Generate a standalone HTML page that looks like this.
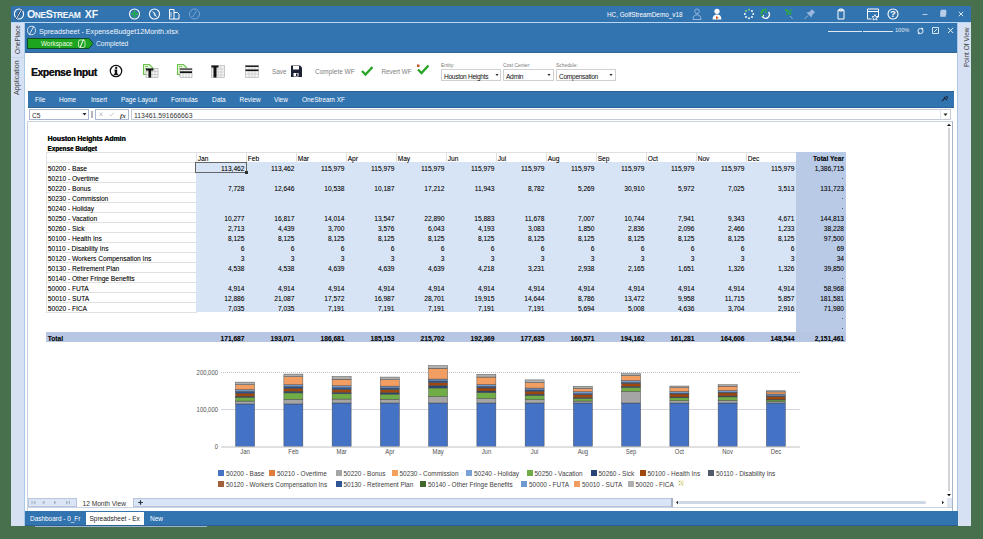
<!DOCTYPE html>
<html><head><meta charset="utf-8">
<style>
*{box-sizing:border-box;margin:0;padding:0}
html,body{width:983px;height:539px;overflow:hidden}
body{position:relative;background:#48704c;font-family:"Liberation Sans",sans-serif;color:#222}
.a{position:absolute}
.t{position:absolute;white-space:nowrap;font-size:6.6px;line-height:11px;color:#0a0a0a;text-shadow:0.15px 0 0 rgba(0,0,0,0.35)}
.hd{font-size:6.6px}
.lbl{}
.hdt{text-align:right;padding-right:2px;font-weight:bold}
.tv{text-align:right;padding-right:2px}
.b{font-weight:bold}
.num{position:absolute;display:flex;font-size:6.6px;line-height:11px;color:#0a0a0a;white-space:nowrap;text-shadow:0.15px 0 0 rgba(0,0,0,0.35)}
.num span{width:50px;text-align:right;padding-right:1.6px;display:block}
.wt{position:absolute;color:#fff;white-space:nowrap}
.rib{position:absolute;top:92px;height:16px;line-height:16px;font-size:6.45px;color:#fff;white-space:nowrap}
.lg{position:absolute;white-space:nowrap;font-size:6.45px;line-height:8px;color:#404040}
.vt{position:absolute;transform:rotate(-90deg);transform-origin:0 0;white-space:nowrap;font-size:6.6px;line-height:7px;color:#3a3a3a}
svg text{font-family:"Liberation Sans",sans-serif;font-size:6.9px;fill:#505050}
.bt{position:absolute;top:511px;height:15px;line-height:15px;font-size:6.45px;color:#fff;white-space:nowrap}
</style></head><body>
<!-- window frame -->
<div class="a" style="left:11px;top:6px;width:960px;height:520px;background:#d6e1f4"></div>
<div class="a" style="left:11px;top:6px;width:960px;height:16px;background:#3274b0"></div>
<div class="a" style="left:11px;top:22px;width:960px;height:1px;background:#b9d6f2"></div>
<!-- brand -->
<svg class="a" style="left:12px;top:7px" width="14" height="14" viewBox="0 0 14 14">
<ellipse cx="7" cy="7" rx="4.6" ry="5" fill="none" stroke="#fff" stroke-width="1.1"/>
<path d="M3.8 12.2 L10.4 1.8" stroke="#1a3f6e" stroke-width="2.2"/>
<path d="M4.2 12 L10 2" stroke="#fff" stroke-width="0.9"/>
</svg>
<div class="wt" id="brand" style="left:27px;top:8px;font-size:10.6px;line-height:12px;font-weight:bold;letter-spacing:-0.45px;color:#f4f7fc">O<span style="font-size:8.5px">NE</span>S<span style="font-size:8.5px">TREAM</span><span style="letter-spacing:0;margin-left:1.5px"> XF</span></div>
<!-- title bar icons -->
<svg class="a" style="left:128px;top:8px" width="74" height="12" viewBox="0 0 74 12">
<circle cx="6.5" cy="6" r="5" fill="none" stroke="#fff" stroke-width="1.1"/>
<g fill="#26b43c"><circle cx="6.5" cy="3.8" r="1.2"/><circle cx="4.3" cy="6" r="1.2"/><circle cx="8.7" cy="6" r="1.2"/><circle cx="6.5" cy="8.2" r="1.2"/><circle cx="6.5" cy="6" r="0.9"/></g>
<circle cx="26.5" cy="6" r="5" fill="none" stroke="#fff" stroke-width="1.1"/>
<path d="M23.8 2.8 L26.5 6.5 L25.5 6.8 L29.2 9.5 L26.8 5.6 L27.8 5.4 Z" fill="#fff"/>
<path d="M41.5 1.5 h4.5 v9.5 h-4.5 z" fill="none" stroke="#fff" stroke-width="1"/>
<path d="M43 4 v5" stroke="#fff" stroke-width="0.8"/>
<path d="M46 4.5 h3.5 l1.5 1.5 v5 h-5" fill="none" stroke="#fff" stroke-width="1"/>
<circle cx="66.5" cy="6" r="5" fill="none" stroke="#86a9d6" stroke-width="0.9"/>
<path d="M64.5 9 L68.5 3" stroke="#86a9d6" stroke-width="0.8"/>
</svg>
<div class="wt" style="left:607px;top:10px;font-size:6.35px;line-height:10px">HC, GolfStreamDemo_v18</div>
<svg class="a" style="left:690px;top:7px" width="280" height="14" viewBox="0 0 280 14">
<g fill="none" stroke="#9fbbe2" stroke-width="0.9"><circle cx="7" cy="4.3" r="2.3"/><path d="M3 12.5 Q3 7.8 7 7.8 Q11 7.8 11 12.5 z"/></g>
<g fill="#fff"><circle cx="27" cy="4.3" r="2.6"/><path d="M22.6 12.5 Q22.6 7.6 27 7.6 Q31.4 7.6 31.4 12.5 z"/></g>
<path d="M26 9 l3 1.8 l-3 1.8 z" fill="#e0622a"/>
<circle cx="63.20" cy="7.00" r="0.95" fill="#fff"/><circle cx="61.97" cy="9.97" r="0.95" fill="#fff"/><circle cx="59.00" cy="11.20" r="0.95" fill="#fff"/><circle cx="56.03" cy="9.97" r="0.95" fill="#fff"/><circle cx="54.80" cy="7.00" r="0.95" fill="#fff"/><circle cx="56.03" cy="4.03" r="0.95" fill="#8fd16a"/><circle cx="59.00" cy="2.80" r="0.95" fill="#8fd16a"/><circle cx="61.97" cy="4.03" r="0.95" fill="#fff"/>
<path d="M78.5 5 a3.8 3.8 0 1 1 -6.5 3.5" fill="none" stroke="#fff" stroke-width="1.3"/>
<path d="M71 8 l1.8 2.3 l1.6 -2.2 z" fill="#fff"/>
<g fill="#2fae3a"><circle cx="73" cy="3.2" r="1.3"/><circle cx="75.5" cy="2.5" r="1.1"/><circle cx="71.5" cy="5.5" r="1.2"/><circle cx="72" cy="8.5" r="1.1"/><circle cx="76" cy="5" r="1"/></g>
<path d="M100 9 l2.5 2.8" stroke="#9ab6de" stroke-width="1"/>
<g fill="#2fae3a"><circle cx="96" cy="3" r="1.2"/><circle cx="98" cy="4.5" r="1.2"/><circle cx="100" cy="6.5" r="1.2"/><circle cx="97" cy="7" r="1"/><circle cx="101" cy="3.5" r="1"/></g>
<path d="M114.5 12 l3.5 -3.5" stroke="#9ab6de" stroke-width="1"/><path d="M116.5 5.5 l5 5 l0.8 -2.5 l2.7 -2.7 l-3 -3 l-2.7 2.7 z" fill="#9ab6de"/>
<path d="M148 3 h6 v9 h-6 z M149.5 2 h3 v2 h-3 z" fill="none" stroke="#fff" stroke-width="1"/>
<path d="M177.5 2 h11 v8 h-3 M177.5 2 v10 h4 M177.5 4.5 h11" fill="none" stroke="#fff" stroke-width="1"/>
<path d="M185 7.5 l1 2 l2 .2 l-1.5 1.3 l.5 2 l-2 -1 l-2 1 l.5 -2 l-1.5 -1.3 l2 -.2 z" fill="none" stroke="#fff" stroke-width="0.8"/>
<circle cx="203" cy="7" r="5" fill="none" stroke="#fff" stroke-width="1.1"/>
<text x="203" y="10.3" text-anchor="middle" style="font-size:9.5px;font-weight:bold;fill:#fff">?</text>
<path d="M232.5 7.5 h5" stroke="#b9cde8" stroke-width="1"/>
<path d="M250.5 4.5 h5 v5 h-5 z M251 4 v-1 h5 v5" fill="#b9cde8" stroke="#b9cde8" stroke-width="0.6"/>
<path d="M268.8 4.8 l4.4 4.4 M273.2 4.8 l-4.4 4.4" stroke="#f0f4fa" stroke-width="0.9"/>
</svg>
<!-- left sidebar -->
<div class="a" style="left:24px;top:23px;width:1px;height:503px;background:#a9c8e8"></div>
<div class="a" style="left:11px;top:57px;width:13px;height:1px;background:#c6d3e8"></div>
<div class="vt" style="left:14px;top:54px">OnePlace</div>
<div class="vt" style="left:14px;top:95px;font-size:7.1px">Application</div>
<!-- right sidebar -->
<div class="a" style="left:957px;top:23px;width:1px;height:503px;background:#a9c6e6"></div>
<div class="vt" style="left:963px;top:66.5px;font-size:6.55px">Point Of View</div>
<!-- inner header -->
<div class="a" style="left:25px;top:23px;width:932px;height:30px;background:#3274b0;border-bottom:1px solid #34628f"></div>
<svg class="a" style="left:26px;top:25px" width="11" height="11" viewBox="0 0 11 11">
<ellipse cx="5.5" cy="5.5" rx="4" ry="4.2" fill="none" stroke="#e8eef8" stroke-width="0.9"/>
<path d="M3 10 L8 1" stroke="#e8eef8" stroke-width="0.9"/>
</svg>
<div class="wt" style="left:39px;top:26.5px;font-size:7.15px;line-height:10px;color:#f4f7fc">Spreadsheet - ExpenseBudget12Month.xlsx</div>
<svg class="a" style="left:26px;top:37px" width="70" height="13" viewBox="0 0 70 13">
<path d="M1.5 1.5 H63 L67 6.5 L63 11.5 H1.5 Z" fill="#1ea51f" stroke="#0f4a28" stroke-width="1"/>
<rect x="52.5" y="3" width="6.5" height="7.5" rx="1.8" fill="none" stroke="#e6f6e0" stroke-width="0.8"/>
<path d="M54 10.5 L57.5 2.5" stroke="#fff" stroke-width="1"/>
</svg>
<div class="wt" style="left:41px;top:39px;font-size:6.35px;line-height:9px;color:#eef8e8">Workspace</div>
<div class="wt" style="left:96px;top:39px;font-size:6.7px;line-height:9px;color:#f0f4fa">Completed</div>
<!-- zoom controls -->
<div class="a" style="left:828px;top:30.5px;width:34px;height:1px;background:#dfe8f5"></div>
<div class="a" style="left:863px;top:30.5px;width:30px;height:1px;background:#dfe8f5"></div>
<div class="wt" style="left:895px;top:26px;font-size:5.6px;line-height:9px;color:#e0e8f4">100%</div>
<svg class="a" style="left:915px;top:26px" width="42" height="10" viewBox="0 0 42 10">
<circle cx="5.5" cy="5" r="2.6" fill="none" stroke="#e6eef8" stroke-width="1"/><path d="M6.5 1.5 l2 1 l-2 1.3 z M4.5 8.5 l-2 -1 l2 -1.3 z" fill="#e6eef8"/>
<path d="M17.5 1.5 h6 v6 h-6 z" fill="none" stroke="#e6eef8" stroke-width="0.9"/>
<path d="M19 6 l3 -3" stroke="#e6eef8" stroke-width="0.9"/>
<path d="M33 1.8 l5.2 5.2 M38.2 1.8 l-5.2 5.2" stroke="#fff" stroke-width="0.9"/>
</svg>
<!-- white content -->
<div class="a" style="left:25px;top:53px;width:932px;height:458px;background:#fff"></div>
<div class="wt" id="ei" style="left:31px;top:67px;font-size:10.3px;line-height:12px;font-weight:bold;color:#151515;letter-spacing:-0.36px;text-shadow:0.25px 0 0 #151515">Expense Input</div>
<!-- toolbar icons -->
<svg class="a" style="left:105px;top:60px" width="200" height="22" viewBox="0 0 200 22">
<circle cx="11" cy="11" r="5.7" fill="#fff" stroke="#111" stroke-width="1.25"/>
<circle cx="11.2" cy="7.9" r="1.15" fill="#111"/>
<path d="M9.4 9.6 h2.8 v4.2 h1 v1.2 h-4.4 v-1.2 h1 v-3 h-0.4 z" fill="#111"/>
<!-- icon2 -->
<path d="M38.5 4.5 h6 l3 3 v7 h-9 z" fill="#e3f4d8" stroke="#6cc24a" stroke-width="1.1"/>
<path d="M40 6.5 h3 M40 8.5 h2" stroke="#6cc24a" stroke-width="0.8"/>
<rect x="41" y="8.5" width="12" height="9" fill="#f4f4f4" stroke="#a0a0a0" stroke-width="0.6"/>
<path d="M44 9 v8.5 M47 9 v8.5 M50 9 v8.5 M41 11.5 h12 M41 14.5 h12" stroke="#b0b0b0" stroke-width="0.5"/>
<path d="M41 8.5 h7.5 v2 h-2.4 v7 h-2.6 v-7 h-2.5 z" fill="#111"/>
<!-- icon3 -->
<path d="M72.5 4.5 h6 l3 3 v7 h-9 z" fill="#e3f4d8" stroke="#6cc24a" stroke-width="1.1"/>
<path d="M74 6.5 h3 M74 8.5 h2" stroke="#6cc24a" stroke-width="0.8"/>
<rect x="75" y="8.5" width="12" height="9" fill="#f4f4f4" stroke="#a0a0a0" stroke-width="0.6"/>
<path d="M78 9 v8.5 M81 9 v8.5 M84 9 v8.5" stroke="#b0b0b0" stroke-width="0.5"/>
<rect x="75" y="8.5" width="12" height="1.3" fill="#3a3a3a"/>
<rect x="75" y="11.3" width="12" height="1.8" fill="#111"/>
<!-- icon4 -->
<rect x="106.5" y="5.5" width="13" height="12" fill="#f2f2f2" stroke="#aaa" stroke-width="0.6"/>
<path d="M110 6 v11.5 M113 6 v11.5 M116 6 v11.5 M106.5 9 h13 M106.5 12 h13 M106.5 15 h13" stroke="#bbb" stroke-width="0.5"/>
<path d="M106.5 5.5 h7 v2 h-2 v10 h-3 v-10 h-2 z" fill="#111"/>
<!-- icon5 -->
<rect x="140.5" y="5.5" width="13" height="12" fill="#f2f2f2" stroke="#aaa" stroke-width="0.6"/>
<path d="M144 6 v11.5 M147 6 v11.5 M150 6 v11.5 M140.5 14 h13" stroke="#bbb" stroke-width="0.5"/>
<rect x="140.5" y="5.5" width="13" height="1.5" fill="#222"/>
<rect x="140.5" y="9.5" width="13" height="1.6" fill="#111"/>
<!-- floppy -->
<path d="M186 5.5 h9 l2 2 v9.5 h-11 z" fill="#1c2233"/>
<rect x="188" y="6" width="6" height="3.5" fill="#fff"/>
<rect x="188.5" y="13" width="5" height="3.5" fill="#fff"/>
<rect x="191" y="13.5" width="1.5" height="2.5" fill="#1c2233"/>
</svg>
<div class="wt" style="left:272px;top:68px;font-size:6.4px;line-height:8px;color:#808080">Save</div>
<div class="wt" style="left:315px;top:68px;font-size:6.5px;line-height:8px;color:#808080">Complete WF</div>
<div class="wt" style="left:381.5px;top:68px;font-size:6.3px;line-height:8px;color:#808080">Revert WF</div>
<svg class="a" style="left:360px;top:63px" width="72" height="14" viewBox="0 0 72 14">
<path d="M2 8 l3.5 3.5 l7 -7.5" fill="none" stroke="#2aa52a" stroke-width="2.4"/>
<path d="M58 6.5 l3.5 3.5 l7 -7.5" fill="none" stroke="#2aa52a" stroke-width="2.4"/>
<rect x="57" y="1.5" width="2.5" height="2.5" fill="#c0502a"/>
</svg>
<div class="wt" style="left:441px;top:63px;font-size:4.9px;line-height:6px;color:#777">Entity:</div>
<div class="wt" style="left:503px;top:63px;font-size:4.9px;line-height:6px;color:#777">Cost Center:</div>
<div class="wt" style="left:556px;top:63px;font-size:4.9px;line-height:6px;color:#777">Schedule:</div>
<div class="a" style="left:441px;top:69px;width:60px;height:12px;border:1px solid #d0d0d0"></div>
<div class="a" style="left:503px;top:69px;width:51px;height:12px;border:1px solid #d0d0d0"></div>
<div class="a" style="left:556px;top:69px;width:60px;height:12px;border:1px solid #d0d0d0"></div>
<div class="wt" style="left:444px;top:71.5px;font-size:6.6px;line-height:9px;color:#111;letter-spacing:-0.3px">Houston Heights</div>
<div class="wt" style="left:506px;top:71.5px;font-size:6.6px;line-height:9px;color:#111;letter-spacing:-0.3px">Admin</div>
<div class="wt" style="left:559px;top:71.5px;font-size:6.6px;line-height:9px;color:#111;letter-spacing:-0.3px">Compensation</div>
<svg class="a" style="left:440px;top:69px" width="180" height="12" viewBox="0 0 180 12">
<path d="M55.5 5 h3 l-1.5 2 z M107.5 5 h3 l-1.5 2 z M169.5 5 h3 l-1.5 2 z" fill="#222"/>
</svg>
<!-- ribbon -->
<div class="a" style="left:28px;top:91px;width:926px;height:17px;background:#3274b0;border-top:1px solid #2d6296;border-bottom:1px solid #2d6296"></div>
<div class="rib" style="left:35px">File</div>
<div class="rib" style="left:59px">Home</div>
<div class="rib" style="left:91px">Insert</div>
<div class="rib" style="left:121px">Page Layout</div>
<div class="rib" style="left:171px">Formulas</div>
<div class="rib" style="left:212px">Data</div>
<div class="rib" style="left:239.5px">Review</div>
<div class="rib" style="left:274px">View</div>
<div class="rib" style="left:302px">OneStream XF</div>
<svg class="a" style="left:940px;top:95px" width="10" height="8" viewBox="0 0 10 8"><path d="M2 6 l3 -3 M4 2 l3 3 M6 1 l2 2" stroke="#1d2a3d" stroke-width="1.2"/></svg>
<!-- formula bar -->
<div class="a" style="left:29px;top:109px;width:60px;height:11px;border:1px solid #a9b7d3;background:#fff"></div>
<div class="wt" style="left:32px;top:111px;font-size:6.6px;line-height:9px;color:#333">C5</div>
<svg class="a" style="left:82px;top:112px" width="8" height="5"><path d="M0.5 1 h4 l-2 2.5 z" fill="#222"/></svg>
<div class="a" style="left:91px;top:111px;width:2px;height:7px;background:#b5b5b5"></div>
<div class="a" style="left:95px;top:109px;width:34px;height:11px;border:1px solid #a9b7d3;background:#fff"></div>
<svg class="a" style="left:95px;top:109px" width="34" height="11" viewBox="0 0 34 11">
<path d="M4.5 3.5 l3 3.5 M7.5 3.5 l-3 3.5" stroke="#aaa" stroke-width="0.7"/>
<path d="M14.5 5.5 l1.5 1.5 l3 -3.5" fill="none" stroke="#bbb" stroke-width="0.7"/>
<text x="25" y="8.5" style="font-family:'Liberation Serif',serif;font-size:7px;font-style:italic;font-weight:bold;fill:#333">fx</text>
</svg>
<div class="a" style="left:131px;top:109px;width:820px;height:11px;border:1px solid #c3cad6;background:#fff"></div>
<div class="wt" style="left:134px;top:111px;font-size:6.85px;line-height:9px;color:#333">113461.591666663</div>
<svg class="a" style="left:940px;top:109px" width="11" height="11"><path d="M0.5 0.5 v10" stroke="#dde3ec" stroke-width="1"/><path d="M3.5 4.5 h4 l-2 2.5 z" fill="#222"/></svg>
<!-- sheet -->
<div class="a" style="left:27px;top:121px;width:926px;height:390px;border:1px solid #c8d2e0;border-right:1.3px solid #a9b5c7;border-bottom:none"></div>
<div class="a" style="left:947.5px;top:128px;width:2.5px;height:363px;background:#d0d3d8"></div>
<svg class="a" style="left:946px;top:123px" width="6" height="4"><path d="M1 3 h4 l-2 -2.2 z" fill="#111"/></svg>
<svg class="a" style="left:946px;top:493px" width="6" height="4"><path d="M1 1 h4 l-2 2.2 z" fill="#111"/></svg>
<div class="wt" style="left:47.5px;top:133.5px;font-size:6.9px;line-height:10px;font-weight:bold;color:#111;text-shadow:0.25px 0 0 #111">Houston Heights Admin</div>
<div class="wt" style="left:47.5px;top:143.5px;font-size:6.3px;line-height:10px;font-weight:bold;color:#111;text-shadow:0.25px 0 0 #111">Expense Budget</div>
<div class="a" style="left:46px;top:152px;width:1px;height:161px;background:#e0e0e0"></div>
<div class="a" style="left:196px;top:152px;width:1px;height:161px;background:#e0e0e0"></div>
<div class="a" style="left:46px;top:152px;width:750px;height:1px;background:#e0e0e0"></div>
<div class="a" style="left:46px;top:162px;width:750px;height:1px;background:#e0e0e0"></div>
<div class="a" style="left:46px;top:172px;width:150px;height:1px;background:#e0e0e0"></div>
<div class="a" style="left:46px;top:182px;width:150px;height:1px;background:#e0e0e0"></div>
<div class="a" style="left:46px;top:192px;width:150px;height:1px;background:#e0e0e0"></div>
<div class="a" style="left:46px;top:202px;width:150px;height:1px;background:#e0e0e0"></div>
<div class="a" style="left:46px;top:212px;width:150px;height:1px;background:#e0e0e0"></div>
<div class="a" style="left:46px;top:222px;width:150px;height:1px;background:#e0e0e0"></div>
<div class="a" style="left:46px;top:232px;width:150px;height:1px;background:#e0e0e0"></div>
<div class="a" style="left:46px;top:242px;width:150px;height:1px;background:#e0e0e0"></div>
<div class="a" style="left:46px;top:252px;width:150px;height:1px;background:#e0e0e0"></div>
<div class="a" style="left:46px;top:262px;width:150px;height:1px;background:#e0e0e0"></div>
<div class="a" style="left:46px;top:272px;width:150px;height:1px;background:#e0e0e0"></div>
<div class="a" style="left:46px;top:282px;width:150px;height:1px;background:#e0e0e0"></div>
<div class="a" style="left:46px;top:292px;width:150px;height:1px;background:#e0e0e0"></div>
<div class="a" style="left:46px;top:302px;width:150px;height:1px;background:#e0e0e0"></div>
<div class="a" style="left:46px;top:312px;width:150px;height:1px;background:#e0e0e0"></div>
<div class="a" style="left:196px;top:152px;width:1px;height:11px;background:#e0e0e0"></div>
<div class="a" style="left:246px;top:152px;width:1px;height:11px;background:#e0e0e0"></div>
<div class="a" style="left:296px;top:152px;width:1px;height:11px;background:#e0e0e0"></div>
<div class="a" style="left:346px;top:152px;width:1px;height:11px;background:#e0e0e0"></div>
<div class="a" style="left:396px;top:152px;width:1px;height:11px;background:#e0e0e0"></div>
<div class="a" style="left:446px;top:152px;width:1px;height:11px;background:#e0e0e0"></div>
<div class="a" style="left:496px;top:152px;width:1px;height:11px;background:#e0e0e0"></div>
<div class="a" style="left:546px;top:152px;width:1px;height:11px;background:#e0e0e0"></div>
<div class="a" style="left:596px;top:152px;width:1px;height:11px;background:#e0e0e0"></div>
<div class="a" style="left:646px;top:152px;width:1px;height:11px;background:#e0e0e0"></div>
<div class="a" style="left:696px;top:152px;width:1px;height:11px;background:#e0e0e0"></div>
<div class="a" style="left:746px;top:152px;width:1px;height:11px;background:#e0e0e0"></div>
<div class="a" style="left:796px;top:152px;width:1px;height:11px;background:#e0e0e0"></div>
<div class="a" style="left:196px;top:162px;width:600px;height:150px;background:#d7e4f6"></div>
<div class="a" style="left:796px;top:152px;width:50px;height:190px;background:#b9cae6"></div>
<div class="t hd" style="left:197.7px;top:153px">Jan</div>
<div class="t hd" style="left:247.7px;top:153px">Feb</div>
<div class="t hd" style="left:297.7px;top:153px">Mar</div>
<div class="t hd" style="left:347.7px;top:153px">Apr</div>
<div class="t hd" style="left:397.7px;top:153px">May</div>
<div class="t hd" style="left:447.7px;top:153px">Jun</div>
<div class="t hd" style="left:497.7px;top:153px">Jul</div>
<div class="t hd" style="left:547.7px;top:153px">Aug</div>
<div class="t hd" style="left:597.7px;top:153px">Sep</div>
<div class="t hd" style="left:647.7px;top:153px">Oct</div>
<div class="t hd" style="left:697.7px;top:153px">Nov</div>
<div class="t hd" style="left:747.7px;top:153px">Dec</div>
<div class="t hdt" style="left:796px;top:153px;width:50px">Total Year</div>
<div class="t lbl" style="left:47.8px;top:163px">50200 - Base</div>
<div class="num" style="left:196px;top:163px"><span>113,462</span><span>113,462</span><span>115,979</span><span>115,979</span><span>115,979</span><span>115,979</span><span>115,979</span><span>115,979</span><span>115,979</span><span>115,979</span><span>115,979</span><span>115,979</span></div>
<div class="t tv" style="left:796px;top:163px;width:50px">1,386,715</div>
<div class="t lbl" style="left:47.8px;top:173px">50210 - Overtime</div>
<div class="a" style="left:842px;top:178px;width:1.2px;height:1px;background:#555"></div>
<div class="t lbl" style="left:47.8px;top:183px">50220 - Bonus</div>
<div class="num" style="left:196px;top:183px"><span>7,728</span><span>12,646</span><span>10,538</span><span>10,187</span><span>17,212</span><span>11,943</span><span>8,782</span><span>5,269</span><span>30,910</span><span>5,972</span><span>7,025</span><span>3,513</span></div>
<div class="t tv" style="left:796px;top:183px;width:50px">131,723</div>
<div class="t lbl" style="left:47.8px;top:193px">50230 - Commission</div>
<div class="a" style="left:842px;top:198px;width:1.2px;height:1px;background:#555"></div>
<div class="t lbl" style="left:47.8px;top:203px">50240 - Holiday</div>
<div class="a" style="left:842px;top:208px;width:1.2px;height:1px;background:#555"></div>
<div class="t lbl" style="left:47.8px;top:213px">50250 - Vacation</div>
<div class="num" style="left:196px;top:213px"><span>10,277</span><span>16,817</span><span>14,014</span><span>13,547</span><span>22,890</span><span>15,883</span><span>11,678</span><span>7,007</span><span>10,744</span><span>7,941</span><span>9,343</span><span>4,671</span></div>
<div class="t tv" style="left:796px;top:213px;width:50px">144,813</div>
<div class="t lbl" style="left:47.8px;top:223px">50260 - Sick</div>
<div class="num" style="left:196px;top:223px"><span>2,713</span><span>4,439</span><span>3,700</span><span>3,576</span><span>6,043</span><span>4,193</span><span>3,083</span><span>1,850</span><span>2,836</span><span>2,096</span><span>2,466</span><span>1,233</span></div>
<div class="t tv" style="left:796px;top:223px;width:50px">38,228</div>
<div class="t lbl" style="left:47.8px;top:233px">50100 - Health Ins</div>
<div class="num" style="left:196px;top:233px"><span>8,125</span><span>8,125</span><span>8,125</span><span>8,125</span><span>8,125</span><span>8,125</span><span>8,125</span><span>8,125</span><span>8,125</span><span>8,125</span><span>8,125</span><span>8,125</span></div>
<div class="t tv" style="left:796px;top:233px;width:50px">97,500</div>
<div class="t lbl" style="left:47.8px;top:243px">50110 - Disability Ins</div>
<div class="num" style="left:196px;top:243px"><span>6</span><span>6</span><span>6</span><span>6</span><span>6</span><span>6</span><span>6</span><span>6</span><span>6</span><span>6</span><span>6</span><span>6</span></div>
<div class="t tv" style="left:796px;top:243px;width:50px">69</div>
<div class="t lbl" style="left:47.8px;top:253px">50120 - Workers Compensation Ins</div>
<div class="num" style="left:196px;top:253px"><span>3</span><span>3</span><span>3</span><span>3</span><span>3</span><span>3</span><span>3</span><span>3</span><span>3</span><span>3</span><span>3</span><span>3</span></div>
<div class="t tv" style="left:796px;top:253px;width:50px">34</div>
<div class="t lbl" style="left:47.8px;top:263px">50130 - Retirement Plan</div>
<div class="num" style="left:196px;top:263px"><span>4,538</span><span>4,538</span><span>4,639</span><span>4,639</span><span>4,639</span><span>4,218</span><span>3,231</span><span>2,938</span><span>2,165</span><span>1,651</span><span>1,326</span><span>1,326</span></div>
<div class="t tv" style="left:796px;top:263px;width:50px">39,850</div>
<div class="t lbl" style="left:47.8px;top:273px">50140 - Other Fringe Benefits</div>
<div class="a" style="left:842px;top:278px;width:1.2px;height:1px;background:#555"></div>
<div class="t lbl" style="left:47.8px;top:283px">50000 - FUTA</div>
<div class="num" style="left:196px;top:283px"><span>4,914</span><span>4,914</span><span>4,914</span><span>4,914</span><span>4,914</span><span>4,914</span><span>4,914</span><span>4,914</span><span>4,914</span><span>4,914</span><span>4,914</span><span>4,914</span></div>
<div class="t tv" style="left:796px;top:283px;width:50px">58,968</div>
<div class="t lbl" style="left:47.8px;top:293px">50010 - SUTA</div>
<div class="num" style="left:196px;top:293px"><span>12,886</span><span>21,087</span><span>17,572</span><span>16,987</span><span>28,701</span><span>19,915</span><span>14,644</span><span>8,786</span><span>13,472</span><span>9,958</span><span>11,715</span><span>5,857</span></div>
<div class="t tv" style="left:796px;top:293px;width:50px">181,581</div>
<div class="t lbl" style="left:47.8px;top:303px">50020 - FICA</div>
<div class="num" style="left:196px;top:303px"><span>7,035</span><span>7,035</span><span>7,191</span><span>7,191</span><span>7,191</span><span>7,191</span><span>7,191</span><span>5,694</span><span>5,008</span><span>4,636</span><span>3,704</span><span>2,916</span></div>
<div class="t tv" style="left:796px;top:303px;width:50px">71,980</div>
<div class="a" style="left:842px;top:318px;width:1.2px;height:1px;background:#555"></div>
<div class="a" style="left:842px;top:328px;width:1.2px;height:1px;background:#555"></div>
<div class="a" style="left:46px;top:332px;width:800px;height:10px;background:#b6c6e3"></div>
<div class="t lbl b" style="left:47.8px;top:333px">Total</div>
<div class="num b" style="left:196px;top:333px"><span>171,687</span><span>193,071</span><span>186,681</span><span>185,153</span><span>215,702</span><span>192,369</span><span>177,635</span><span>160,571</span><span>194,162</span><span>161,281</span><span>164,606</span><span>148,544</span></div>
<div class="t tv b" style="left:796px;top:333px;width:50px">2,151,461</div>
<div class="a" style="left:195px;top:161.5px;width:51.5px;height:11px;border:1.2px solid #666"></div>
<div class="a" style="left:244.5px;top:171px;width:3px;height:3px;background:#303030"></div>
<svg class="a" style="left:0;top:0" width="983" height="539">
<line x1="221" y1="372.5" x2="800" y2="372.5" stroke="#b9c3d0" stroke-width="1" stroke-dasharray="1 1"/>
<line x1="221" y1="409.5" x2="800" y2="409.5" stroke="#d3d8e0" stroke-width="1"/>
<rect x="235.62" y="403.95" width="19" height="42.55" fill="#4472c4" stroke="#444" stroke-width="0.45"/>
<rect x="235.62" y="401.05" width="19" height="2.90" fill="#a5a5a5" stroke="#444" stroke-width="0.45"/>
<rect x="235.62" y="397.20" width="19" height="3.85" fill="#70ad47" stroke="#444" stroke-width="0.45"/>
<rect x="235.62" y="396.18" width="19" height="1.02" fill="#264478" stroke="#444" stroke-width="0.45"/>
<rect x="235.62" y="393.14" width="19" height="3.05" fill="#9e480e" stroke="#444" stroke-width="0.45"/>
<rect x="235.62" y="393.13" width="19" height="0.00" fill="#515b6b" stroke="#444" stroke-width="0.45"/>
<rect x="235.62" y="393.13" width="19" height="0.00" fill="#a0603a" stroke="#444" stroke-width="0.45"/>
<rect x="235.62" y="391.43" width="19" height="1.70" fill="#2f5597" stroke="#444" stroke-width="0.45"/>
<rect x="235.62" y="389.59" width="19" height="1.84" fill="#7099d0" stroke="#444" stroke-width="0.45"/>
<rect x="235.62" y="384.76" width="19" height="4.83" fill="#f29d62" stroke="#444" stroke-width="0.45"/>
<rect x="235.62" y="382.12" width="19" height="2.64" fill="#b0b0b0" stroke="#444" stroke-width="0.45"/>
<text transform="translate(245.1,454) scale(0.86,1)" text-anchor="middle">Jan</text>
<rect x="283.88" y="403.95" width="19" height="42.55" fill="#4472c4" stroke="#444" stroke-width="0.45"/>
<rect x="283.88" y="399.21" width="19" height="4.74" fill="#a5a5a5" stroke="#444" stroke-width="0.45"/>
<rect x="283.88" y="392.90" width="19" height="6.31" fill="#70ad47" stroke="#444" stroke-width="0.45"/>
<rect x="283.88" y="391.24" width="19" height="1.66" fill="#264478" stroke="#444" stroke-width="0.45"/>
<rect x="283.88" y="388.19" width="19" height="3.05" fill="#9e480e" stroke="#444" stroke-width="0.45"/>
<rect x="283.88" y="388.19" width="19" height="0.00" fill="#515b6b" stroke="#444" stroke-width="0.45"/>
<rect x="283.88" y="388.19" width="19" height="0.00" fill="#a0603a" stroke="#444" stroke-width="0.45"/>
<rect x="283.88" y="386.49" width="19" height="1.70" fill="#2f5597" stroke="#444" stroke-width="0.45"/>
<rect x="283.88" y="384.64" width="19" height="1.84" fill="#7099d0" stroke="#444" stroke-width="0.45"/>
<rect x="283.88" y="376.74" width="19" height="7.91" fill="#f29d62" stroke="#444" stroke-width="0.45"/>
<rect x="283.88" y="374.10" width="19" height="2.64" fill="#b0b0b0" stroke="#444" stroke-width="0.45"/>
<text transform="translate(293.4,454) scale(0.86,1)" text-anchor="middle">Feb</text>
<rect x="332.12" y="403.01" width="19" height="43.49" fill="#4472c4" stroke="#444" stroke-width="0.45"/>
<rect x="332.12" y="399.06" width="19" height="3.95" fill="#a5a5a5" stroke="#444" stroke-width="0.45"/>
<rect x="332.12" y="393.80" width="19" height="5.26" fill="#70ad47" stroke="#444" stroke-width="0.45"/>
<rect x="332.12" y="392.41" width="19" height="1.39" fill="#264478" stroke="#444" stroke-width="0.45"/>
<rect x="332.12" y="389.37" width="19" height="3.05" fill="#9e480e" stroke="#444" stroke-width="0.45"/>
<rect x="332.12" y="389.36" width="19" height="0.00" fill="#515b6b" stroke="#444" stroke-width="0.45"/>
<rect x="332.12" y="389.36" width="19" height="0.00" fill="#a0603a" stroke="#444" stroke-width="0.45"/>
<rect x="332.12" y="387.62" width="19" height="1.74" fill="#2f5597" stroke="#444" stroke-width="0.45"/>
<rect x="332.12" y="385.78" width="19" height="1.84" fill="#7099d0" stroke="#444" stroke-width="0.45"/>
<rect x="332.12" y="379.19" width="19" height="6.59" fill="#f29d62" stroke="#444" stroke-width="0.45"/>
<rect x="332.12" y="376.49" width="19" height="2.70" fill="#b0b0b0" stroke="#444" stroke-width="0.45"/>
<text transform="translate(341.6,454) scale(0.86,1)" text-anchor="middle">Mar</text>
<rect x="380.38" y="403.01" width="19" height="43.49" fill="#4472c4" stroke="#444" stroke-width="0.45"/>
<rect x="380.38" y="399.19" width="19" height="3.82" fill="#a5a5a5" stroke="#444" stroke-width="0.45"/>
<rect x="380.38" y="394.11" width="19" height="5.08" fill="#70ad47" stroke="#444" stroke-width="0.45"/>
<rect x="380.38" y="392.77" width="19" height="1.34" fill="#264478" stroke="#444" stroke-width="0.45"/>
<rect x="380.38" y="389.72" width="19" height="3.05" fill="#9e480e" stroke="#444" stroke-width="0.45"/>
<rect x="380.38" y="389.72" width="19" height="0.00" fill="#515b6b" stroke="#444" stroke-width="0.45"/>
<rect x="380.38" y="389.72" width="19" height="0.00" fill="#a0603a" stroke="#444" stroke-width="0.45"/>
<rect x="380.38" y="387.98" width="19" height="1.74" fill="#2f5597" stroke="#444" stroke-width="0.45"/>
<rect x="380.38" y="386.13" width="19" height="1.84" fill="#7099d0" stroke="#444" stroke-width="0.45"/>
<rect x="380.38" y="379.76" width="19" height="6.37" fill="#f29d62" stroke="#444" stroke-width="0.45"/>
<rect x="380.38" y="377.07" width="19" height="2.70" fill="#b0b0b0" stroke="#444" stroke-width="0.45"/>
<text transform="translate(389.9,454) scale(0.86,1)" text-anchor="middle">Apr</text>
<rect x="428.62" y="403.01" width="19" height="43.49" fill="#4472c4" stroke="#444" stroke-width="0.45"/>
<rect x="428.62" y="396.55" width="19" height="6.45" fill="#a5a5a5" stroke="#444" stroke-width="0.45"/>
<rect x="428.62" y="387.97" width="19" height="8.58" fill="#70ad47" stroke="#444" stroke-width="0.45"/>
<rect x="428.62" y="385.70" width="19" height="2.27" fill="#264478" stroke="#444" stroke-width="0.45"/>
<rect x="428.62" y="382.66" width="19" height="3.05" fill="#9e480e" stroke="#444" stroke-width="0.45"/>
<rect x="428.62" y="382.65" width="19" height="0.00" fill="#515b6b" stroke="#444" stroke-width="0.45"/>
<rect x="428.62" y="382.65" width="19" height="0.00" fill="#a0603a" stroke="#444" stroke-width="0.45"/>
<rect x="428.62" y="380.91" width="19" height="1.74" fill="#2f5597" stroke="#444" stroke-width="0.45"/>
<rect x="428.62" y="379.07" width="19" height="1.84" fill="#7099d0" stroke="#444" stroke-width="0.45"/>
<rect x="428.62" y="368.31" width="19" height="10.76" fill="#f29d62" stroke="#444" stroke-width="0.45"/>
<rect x="428.62" y="365.61" width="19" height="2.70" fill="#b0b0b0" stroke="#444" stroke-width="0.45"/>
<text transform="translate(438.1,454) scale(0.86,1)" text-anchor="middle">May</text>
<rect x="476.88" y="403.01" width="19" height="43.49" fill="#4472c4" stroke="#444" stroke-width="0.45"/>
<rect x="476.88" y="398.53" width="19" height="4.48" fill="#a5a5a5" stroke="#444" stroke-width="0.45"/>
<rect x="476.88" y="392.57" width="19" height="5.96" fill="#70ad47" stroke="#444" stroke-width="0.45"/>
<rect x="476.88" y="391.00" width="19" height="1.57" fill="#264478" stroke="#444" stroke-width="0.45"/>
<rect x="476.88" y="387.95" width="19" height="3.05" fill="#9e480e" stroke="#444" stroke-width="0.45"/>
<rect x="476.88" y="387.95" width="19" height="0.00" fill="#515b6b" stroke="#444" stroke-width="0.45"/>
<rect x="476.88" y="387.95" width="19" height="0.00" fill="#a0603a" stroke="#444" stroke-width="0.45"/>
<rect x="476.88" y="386.37" width="19" height="1.58" fill="#2f5597" stroke="#444" stroke-width="0.45"/>
<rect x="476.88" y="384.53" width="19" height="1.84" fill="#7099d0" stroke="#444" stroke-width="0.45"/>
<rect x="476.88" y="377.06" width="19" height="7.47" fill="#f29d62" stroke="#444" stroke-width="0.45"/>
<rect x="476.88" y="374.36" width="19" height="2.70" fill="#b0b0b0" stroke="#444" stroke-width="0.45"/>
<text transform="translate(486.4,454) scale(0.86,1)" text-anchor="middle">Jun</text>
<rect x="525.12" y="403.01" width="19" height="43.49" fill="#4472c4" stroke="#444" stroke-width="0.45"/>
<rect x="525.12" y="399.71" width="19" height="3.29" fill="#a5a5a5" stroke="#444" stroke-width="0.45"/>
<rect x="525.12" y="395.34" width="19" height="4.38" fill="#70ad47" stroke="#444" stroke-width="0.45"/>
<rect x="525.12" y="394.18" width="19" height="1.16" fill="#264478" stroke="#444" stroke-width="0.45"/>
<rect x="525.12" y="391.13" width="19" height="3.05" fill="#9e480e" stroke="#444" stroke-width="0.45"/>
<rect x="525.12" y="391.13" width="19" height="0.00" fill="#515b6b" stroke="#444" stroke-width="0.45"/>
<rect x="525.12" y="391.13" width="19" height="0.00" fill="#a0603a" stroke="#444" stroke-width="0.45"/>
<rect x="525.12" y="389.92" width="19" height="1.21" fill="#2f5597" stroke="#444" stroke-width="0.45"/>
<rect x="525.12" y="388.07" width="19" height="1.84" fill="#7099d0" stroke="#444" stroke-width="0.45"/>
<rect x="525.12" y="382.58" width="19" height="5.49" fill="#f29d62" stroke="#444" stroke-width="0.45"/>
<rect x="525.12" y="379.89" width="19" height="2.70" fill="#b0b0b0" stroke="#444" stroke-width="0.45"/>
<text transform="translate(534.6,454) scale(0.86,1)" text-anchor="middle">Jul</text>
<rect x="573.38" y="403.01" width="19" height="43.49" fill="#4472c4" stroke="#444" stroke-width="0.45"/>
<rect x="573.38" y="401.03" width="19" height="1.98" fill="#a5a5a5" stroke="#444" stroke-width="0.45"/>
<rect x="573.38" y="398.40" width="19" height="2.63" fill="#70ad47" stroke="#444" stroke-width="0.45"/>
<rect x="573.38" y="397.71" width="19" height="0.69" fill="#264478" stroke="#444" stroke-width="0.45"/>
<rect x="573.38" y="394.66" width="19" height="3.05" fill="#9e480e" stroke="#444" stroke-width="0.45"/>
<rect x="573.38" y="394.66" width="19" height="0.00" fill="#515b6b" stroke="#444" stroke-width="0.45"/>
<rect x="573.38" y="394.66" width="19" height="0.00" fill="#a0603a" stroke="#444" stroke-width="0.45"/>
<rect x="573.38" y="393.56" width="19" height="1.10" fill="#2f5597" stroke="#444" stroke-width="0.45"/>
<rect x="573.38" y="391.72" width="19" height="1.84" fill="#7099d0" stroke="#444" stroke-width="0.45"/>
<rect x="573.38" y="388.42" width="19" height="3.29" fill="#f29d62" stroke="#444" stroke-width="0.45"/>
<rect x="573.38" y="386.29" width="19" height="2.14" fill="#b0b0b0" stroke="#444" stroke-width="0.45"/>
<text transform="translate(582.9,454) scale(0.86,1)" text-anchor="middle">Aug</text>
<rect x="621.62" y="403.01" width="19" height="43.49" fill="#4472c4" stroke="#444" stroke-width="0.45"/>
<rect x="621.62" y="391.42" width="19" height="11.59" fill="#a5a5a5" stroke="#444" stroke-width="0.45"/>
<rect x="621.62" y="387.39" width="19" height="4.03" fill="#70ad47" stroke="#444" stroke-width="0.45"/>
<rect x="621.62" y="386.32" width="19" height="1.06" fill="#264478" stroke="#444" stroke-width="0.45"/>
<rect x="621.62" y="383.28" width="19" height="3.05" fill="#9e480e" stroke="#444" stroke-width="0.45"/>
<rect x="621.62" y="383.27" width="19" height="0.00" fill="#515b6b" stroke="#444" stroke-width="0.45"/>
<rect x="621.62" y="383.27" width="19" height="0.00" fill="#a0603a" stroke="#444" stroke-width="0.45"/>
<rect x="621.62" y="382.46" width="19" height="0.81" fill="#2f5597" stroke="#444" stroke-width="0.45"/>
<rect x="621.62" y="380.62" width="19" height="1.84" fill="#7099d0" stroke="#444" stroke-width="0.45"/>
<rect x="621.62" y="375.57" width="19" height="5.05" fill="#f29d62" stroke="#444" stroke-width="0.45"/>
<rect x="621.62" y="373.69" width="19" height="1.88" fill="#b0b0b0" stroke="#444" stroke-width="0.45"/>
<text transform="translate(631.1,454) scale(0.86,1)" text-anchor="middle">Sep</text>
<rect x="669.88" y="403.01" width="19" height="43.49" fill="#4472c4" stroke="#444" stroke-width="0.45"/>
<rect x="669.88" y="400.77" width="19" height="2.24" fill="#a5a5a5" stroke="#444" stroke-width="0.45"/>
<rect x="669.88" y="397.79" width="19" height="2.98" fill="#70ad47" stroke="#444" stroke-width="0.45"/>
<rect x="669.88" y="397.00" width="19" height="0.79" fill="#264478" stroke="#444" stroke-width="0.45"/>
<rect x="669.88" y="393.96" width="19" height="3.05" fill="#9e480e" stroke="#444" stroke-width="0.45"/>
<rect x="669.88" y="393.96" width="19" height="0.00" fill="#515b6b" stroke="#444" stroke-width="0.45"/>
<rect x="669.88" y="393.95" width="19" height="0.00" fill="#a0603a" stroke="#444" stroke-width="0.45"/>
<rect x="669.88" y="393.34" width="19" height="0.62" fill="#2f5597" stroke="#444" stroke-width="0.45"/>
<rect x="669.88" y="391.49" width="19" height="1.84" fill="#7099d0" stroke="#444" stroke-width="0.45"/>
<rect x="669.88" y="387.76" width="19" height="3.73" fill="#f29d62" stroke="#444" stroke-width="0.45"/>
<rect x="669.88" y="386.02" width="19" height="1.74" fill="#b0b0b0" stroke="#444" stroke-width="0.45"/>
<text transform="translate(679.4,454) scale(0.86,1)" text-anchor="middle">Oct</text>
<rect x="718.12" y="403.01" width="19" height="43.49" fill="#4472c4" stroke="#444" stroke-width="0.45"/>
<rect x="718.12" y="400.37" width="19" height="2.63" fill="#a5a5a5" stroke="#444" stroke-width="0.45"/>
<rect x="718.12" y="396.87" width="19" height="3.50" fill="#70ad47" stroke="#444" stroke-width="0.45"/>
<rect x="718.12" y="395.95" width="19" height="0.92" fill="#264478" stroke="#444" stroke-width="0.45"/>
<rect x="718.12" y="392.90" width="19" height="3.05" fill="#9e480e" stroke="#444" stroke-width="0.45"/>
<rect x="718.12" y="392.90" width="19" height="0.00" fill="#515b6b" stroke="#444" stroke-width="0.45"/>
<rect x="718.12" y="392.89" width="19" height="0.00" fill="#a0603a" stroke="#444" stroke-width="0.45"/>
<rect x="718.12" y="392.40" width="19" height="0.50" fill="#2f5597" stroke="#444" stroke-width="0.45"/>
<rect x="718.12" y="390.55" width="19" height="1.84" fill="#7099d0" stroke="#444" stroke-width="0.45"/>
<rect x="718.12" y="386.16" width="19" height="4.39" fill="#f29d62" stroke="#444" stroke-width="0.45"/>
<rect x="718.12" y="384.77" width="19" height="1.39" fill="#b0b0b0" stroke="#444" stroke-width="0.45"/>
<text transform="translate(727.6,454) scale(0.86,1)" text-anchor="middle">Nov</text>
<rect x="766.38" y="403.01" width="19" height="43.49" fill="#4472c4" stroke="#444" stroke-width="0.45"/>
<rect x="766.38" y="401.69" width="19" height="1.32" fill="#a5a5a5" stroke="#444" stroke-width="0.45"/>
<rect x="766.38" y="399.94" width="19" height="1.75" fill="#70ad47" stroke="#444" stroke-width="0.45"/>
<rect x="766.38" y="399.48" width="19" height="0.46" fill="#264478" stroke="#444" stroke-width="0.45"/>
<rect x="766.38" y="396.43" width="19" height="3.05" fill="#9e480e" stroke="#444" stroke-width="0.45"/>
<rect x="766.38" y="396.43" width="19" height="0.00" fill="#515b6b" stroke="#444" stroke-width="0.45"/>
<rect x="766.38" y="396.43" width="19" height="0.00" fill="#a0603a" stroke="#444" stroke-width="0.45"/>
<rect x="766.38" y="395.93" width="19" height="0.50" fill="#2f5597" stroke="#444" stroke-width="0.45"/>
<rect x="766.38" y="394.09" width="19" height="1.84" fill="#7099d0" stroke="#444" stroke-width="0.45"/>
<rect x="766.38" y="391.89" width="19" height="2.20" fill="#f29d62" stroke="#444" stroke-width="0.45"/>
<rect x="766.38" y="390.80" width="19" height="1.09" fill="#b0b0b0" stroke="#444" stroke-width="0.45"/>
<text transform="translate(775.9,454) scale(0.86,1)" text-anchor="middle">Dec</text>
<line x1="221" y1="447.0" x2="800" y2="447.0" stroke="#c0c0c0" stroke-width="1"/>
<text transform="translate(218,374.6) scale(0.86,1)" text-anchor="end">200,000</text>
<text transform="translate(218,412.1) scale(0.86,1)" text-anchor="end">100,000</text>
<text transform="translate(218,449.1) scale(0.86,1)" text-anchor="end">0</text>
</svg>
<div class="a" style="left:218px;top:470px;width:6px;height:6px;background:#4472c4"></div><div class="lg" style="left:226px;top:470px">50200 - Base</div>
<div class="a" style="left:269px;top:470px;width:6px;height:6px;background:#e07b3a"></div><div class="lg" style="left:277px;top:470px">50210 - Overtime</div>
<div class="a" style="left:335.5px;top:470px;width:6px;height:6px;background:#a5a5a5"></div><div class="lg" style="left:343.5px;top:470px">50220 - Bonus</div>
<div class="a" style="left:391.5px;top:470px;width:6px;height:6px;background:#f4a15f"></div><div class="lg" style="left:399.5px;top:470px">50230 - Commission</div>
<div class="a" style="left:466px;top:470px;width:6px;height:6px;background:#7aa2d6"></div><div class="lg" style="left:474px;top:470px">50240 - Holiday</div>
<div class="a" style="left:526.5px;top:470px;width:6px;height:6px;background:#70ad47"></div><div class="lg" style="left:534.5px;top:470px">50250 - Vacation</div>
<div class="a" style="left:590.5px;top:470px;width:6px;height:6px;background:#264478"></div><div class="lg" style="left:598.5px;top:470px">50260 - Sick</div>
<div class="a" style="left:639.5px;top:470px;width:6px;height:6px;background:#9e480e"></div><div class="lg" style="left:647.5px;top:470px">50100 - Health Ins</div>
<div class="a" style="left:708px;top:470px;width:6px;height:6px;background:#515b6b"></div><div class="lg" style="left:716px;top:470px">50110 - Disability Ins</div>
<div class="a" style="left:218px;top:481px;width:6px;height:6px;background:#a0603a"></div><div class="lg" style="left:226px;top:481px">50120 - Workers Compensation Ins</div>
<div class="a" style="left:335.5px;top:481px;width:6px;height:6px;background:#2f5597"></div><div class="lg" style="left:343.5px;top:481px">50130 - Retirement Plan</div>
<div class="a" style="left:420px;top:481px;width:6px;height:6px;background:#43682b"></div><div class="lg" style="left:428px;top:481px">50140 - Other Fringe Benefits</div>
<div class="a" style="left:521px;top:481px;width:6px;height:6px;background:#7099d0"></div><div class="lg" style="left:529px;top:481px">50000 - FUTA</div>
<div class="a" style="left:574px;top:481px;width:6px;height:6px;background:#f29d62"></div><div class="lg" style="left:582px;top:481px">50010 - SUTA</div>
<div class="a" style="left:627.5px;top:481px;width:6px;height:6px;background:#b0b0b0"></div><div class="lg" style="left:635.5px;top:481px">50020 - FICA</div>
<svg class="a" style="left:677px;top:479px" width="9" height="9" viewBox="0 0 9 9"><rect x="1" y="1" width="6" height="6" fill="#f6f0d6"/><path d="M2 2 h1 v1 h-1z M4 3 h1 v1 h-1z M2 5 h1 v1 h-1z M5 5 h1 v1 h-1z" fill="#9fc98a"/></svg>
<!-- sheet tabs -->
<div class="a" style="left:28px;top:498px;width:924px;height:9px;background:#fff"></div>
<div class="a" style="left:27.5px;top:498px;width:49px;height:9px;background:#dbe5f5;border:1px solid #b8c6dc"></div>
<svg class="a" style="left:28px;top:498px" width="48" height="9" viewBox="0 0 48 9"><g fill="#a8b4c8"><path d="M3.5 2.5 h1 v4 h-1z M5 4.5 l2.5 -2 v4z M14 4.5 l2.5 -2 v4z M26 2.5 l2.5 2 l-2.5 2z M38 2.5 l2.5 2 l-2.5 2z M41 2.5 h1 v4 h-1z"/></g></svg>
<div class="wt" style="left:82.5px;top:498.5px;font-size:6.6px;line-height:9px;color:#333">12 Month View</div>
<div class="a" style="left:132.5px;top:498px;width:539px;height:9px;background:#d9e4f6;border:1px solid #b8c6dc;border-right:none"></div>
<svg class="a" style="left:137px;top:499px" width="7" height="7"><path d="M3.5 1.2 v4.6 M1.2 3.5 h4.6" stroke="#2a3140" stroke-width="1.2"/></svg>
<div class="a" style="left:671px;top:498px;width:2px;height:9px;background:#a6b2c4"></div>
<div class="a" style="left:678px;top:501px;width:248px;height:3px;border-radius:1.5px;background:#cdd7e6"></div>
<svg class="a" style="left:673px;top:499px" width="275" height="7"><path d="M3 3.5 l2 -1.8 v3.6z M271 3.5 l-2 -1.8 v3.6z" fill="#222"/></svg>
<div class="a" style="left:947px;top:498px;width:5px;height:9px;background:#dfe6f0"></div>
<div class="a" style="left:27px;top:507px;width:925px;height:1px;background:#c8d2e0"></div>
<!-- bottom tabs -->
<div class="a" style="left:25px;top:511px;width:933px;height:15px;background:#3274b0;border-bottom:1px solid #2b5f93"></div>
<div class="a" style="left:35px;top:526px;width:172px;height:1px;background:#9db5cf"></div>
<div class="bt" style="left:30px">Dashboard - 0_Fr</div>
<div class="a" style="left:86px;top:511.5px;width:58px;height:13.5px;background:#fff"></div>
<div class="bt" style="left:89.5px;color:#222;font-size:6.5px">Spreadsheet - Ex</div>
<div class="bt" style="left:150px;font-size:6.45px">New</div>
</body></html>
